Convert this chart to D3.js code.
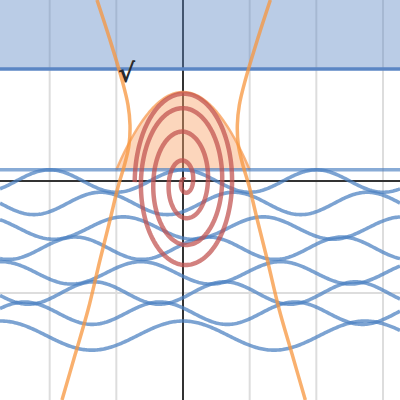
<!DOCTYPE html>
<html><head><meta charset="utf-8">
<script src="https://cdn.jsdelivr.net/npm/d3@7"></script>
<style>body{margin:0}svg{display:block}</style></head>
<body><script>
const xDomain=[-2.745,3.255], yDomain=[-1.955,1.616];
const xGrid=[-2,-1,1,2,3], yGrid=[-1,1];
const shadeAbove=1.0, baseLine=0.1;
const capTop=0.795, capK=0.695;
const leftCurve=[[-1.29,1.616],[-1.095,1.259],[-0.915,0.902],[-0.825,0.679],[-0.795,0.5],[-0.81,0.321],[-0.87,0.161],[-0.975,-0.054],[-1.095,-0.348],[-1.245,-0.705],[-1.425,-1.152],[-1.62,-1.554],[-1.815,-1.955]];
// waves: [center, amplitude, angular freq (per unit), phase]
const waves=[[0,0.1,3.14,0],[-0.2,0.1,3.14,2.4],[-0.42,0.1,3.0,3.6],[-0.6,0.1,3.14,1.2],[-0.82,0.1,3.0,4.4],[-1.0,0.1,3.2,2.0],[-1.18,0.1,3.1,5.2],[-1.38,0.13,2.3,0]];
// spiral radii (y-units) at each quarter turn
const spiralR=[0.02,0.05,0.09,0.14,0.19,0.25,0.32,0.38,0.45,0.5,0.56,0.61,0.66,0.7,0.74,0.77,0.79,0.8];
const spiralCx=0.02, spiralCy=-0.01, spiralAspect=0.93;

const W=400,H=400;
const x=d3.scaleLinear().domain(xDomain).range([0,W]);
const y=d3.scaleLinear().domain(yDomain).range([H,0]);
const svg=d3.select("body").append("svg").attr("width",W).attr("height",H);
svg.append("rect").attr("width",W).attr("height",H).attr("fill","#fff");
svg.selectAll(".gx").data(xGrid).join("line").attr("x1",d=>x(d)).attr("x2",d=>x(d)).attr("y1",0).attr("y2",H).attr("stroke","#ddd").attr("stroke-width",2);
svg.selectAll(".gy").data(yGrid).join("line").attr("y1",d=>y(d)).attr("y2",d=>y(d)).attr("x1",0).attr("x2",W).attr("stroke","#ddd").attr("stroke-width",2);
svg.append("line").attr("x1",x(0)).attr("x2",x(0)).attr("y1",0).attr("y2",H).attr("stroke","#333").attr("stroke-width",2);
svg.append("line").attr("y1",y(0)).attr("y2",y(0)).attr("x1",0).attr("x2",W).attr("stroke","#333").attr("stroke-width",2);
svg.append("rect").attr("x",0).attr("y",0).attr("width",W).attr("height",y(shadeAbove)).attr("fill","#5b86c4").attr("opacity",0.42);
svg.append("line").attr("y1",y(shadeAbove)).attr("y2",y(shadeAbove)).attr("x1",0).attr("x2",W).attr("stroke","#5b86c4").attr("stroke-width",3.5);
const capEdge=Math.sqrt((capTop-baseLine)/capK);
const capPts=d3.range(-capEdge,capEdge+1e-9,capEdge/40).map(t=>[t,capTop-capK*t*t]);
const ln=d3.line().x(d=>x(d[0])).y(d=>y(d[1]));
svg.append("path").attr("d",ln([[-capEdge,baseLine],...capPts,[capEdge,baseLine]])+"Z").attr("fill","#f9a46a").attr("opacity",0.45);
svg.append("path").attr("d",ln(capPts)).attr("fill","none").attr("stroke","#f7a15c").attr("stroke-width",2.5).attr("opacity",0.8);
waves.forEach(w=>{
  const pts=d3.range(xDomain[0],xDomain[1]+0.01,0.02).map(t=>[t,w[0]+w[1]*Math.cos(w[2]*t-w[3])]);
  svg.append("path").attr("d",ln(pts)).attr("fill","none").attr("stroke","#4a7fc1").attr("stroke-width",3.6).attr("opacity",0.72);
});
svg.append("line").attr("y1",y(baseLine)).attr("y2",y(baseLine)).attr("x1",0).attr("x2",W).attr("stroke","#4a7fc1").attr("stroke-width",3.5).attr("opacity",0.65);
const rAt=d3.scaleLinear().domain(spiralR.map((_,i)=>i)).range(spiralR);
const spPts=d3.range(0,spiralR.length-1+1e-9,0.02).map(q=>{const a=q*Math.PI/2+Math.PI/2,r=rAt(q);return [spiralCx+r*Math.cos(a)*spiralAspect, spiralCy+r*Math.sin(a)];});
svg.append("path").attr("d",ln(spPts)).attr("fill","none").attr("stroke","#c0504d").attr("stroke-width",4.5).attr("opacity",0.72);
const lc=d3.line().x(d=>x(d[0])).y(d=>y(d[1])).curve(d3.curveCatmullRom);
svg.append("path").attr("d",lc(leftCurve)).attr("fill","none").attr("stroke","#f7953d").attr("stroke-width",3.5).attr("opacity",0.75);
svg.append("path").attr("d",lc(leftCurve.map(d=>[-d[0]+0.02,d[1]]))).attr("fill","none").attr("stroke","#f7953d").attr("stroke-width",3.5).attr("opacity",0.75);
svg.append("text").attr("x",x(-0.85)).attr("y",y(0.88)).attr("text-anchor","middle").attr("font-family","DejaVu Sans").attr("font-weight","bold").attr("font-size",26).attr("fill","#2a2a2a").text("√");
</script></body></html>
